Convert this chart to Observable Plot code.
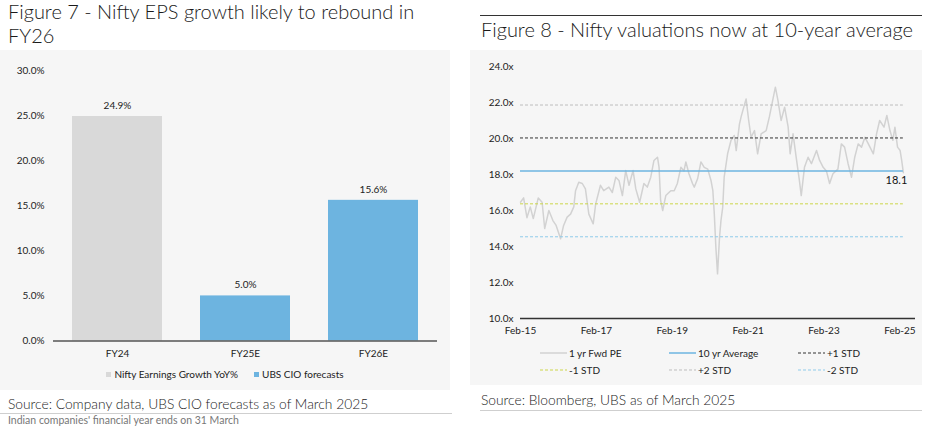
<!DOCTYPE html>
<html><head><meta charset="utf-8">
<script src="https://cdn.jsdelivr.net/npm/d3@7"></script>
<script src="https://cdn.jsdelivr.net/npm/@observablehq/plot@0.6"></script>
<style>
body{margin:0;background:#fff;font-family:Lato,"Open Sans",sans-serif;}
#wrap{position:relative;width:940px;height:427px;overflow:hidden;background:#fff;}
.abs{position:absolute;white-space:nowrap;}
.title{font-size:20px;color:#1a1a1a;line-height:23.5px;font-weight:300;}
.panel{position:absolute;background:#f6f6f6;}
.src{font-size:13.8px;color:#222;font-weight:300;}
.note{font-size:10.5px;color:#777;}
.leg{font-size:10px;color:#222;display:flex;align-items:center;}
.sq{display:inline-block;width:5px;height:5px;margin-right:3px;}
.hr{position:absolute;height:0;}
</style></head><body>
<div id="wrap">
  <div class="abs title" style="left:8px;top:0px;">Figure 7 - Nifty EPS growth likely to rebound in<br>FY26</div>
  <div class="panel" style="left:0;top:50px;width:450px;height:340px;"></div>
  <div id="leftChart" class="abs" style="left:0;top:52px;"></div>
  <div id="leftLegend" class="abs" style="left:0;top:368px;width:450px;"></div>
  <div class="abs src" style="left:8px;top:395px;">Source: Company data, UBS CIO forecasts as of March 2025</div>
  <div class="hr" style="left:0;top:413px;width:452px;border-top:1px solid #cfcfcf;"></div>
  <div class="abs note" style="left:8px;top:414px;">Indian companies' financial year ends on 31 March</div>

  <div class="hr" style="left:480px;top:15px;width:442px;border-top:1px solid #333;"></div>
  <div class="abs title" style="left:481px;top:18px;">Figure 8 - Nifty valuations now at 10-year average</div>
  <div class="panel" style="left:470px;top:50px;width:452px;height:335px;"></div>
  <div id="rightChart" class="abs" style="left:470px;top:52px;"></div>
  <div id="rightLegend" class="abs" style="left:470px;top:347px;width:452px;height:36px;"></div>
  <div class="abs src" style="left:481px;top:391px;">Source: Bloomberg, UBS as of March 2025</div>
  <div class="hr" style="left:480px;top:410px;width:442px;border-top:1px solid #cfcfcf;"></div>
</div>
<script>
// ---------- Figure 7 data ----------
const categories = ["FY24", "FY25E", "FY26E"];
const growth = [24.9, 5.0, 15.6];
const barSeries = ["Nifty Earnings Growth YoY%", "UBS CIO forecasts", "UBS CIO forecasts"];
const seriesNames = ["Nifty Earnings Growth YoY%", "UBS CIO forecasts"];
const seriesColors = ["#d9d9d9", "#6db4e0"];
const yTicksLeft = [0, 5, 10, 15, 20, 25, 30];

// ---------- Figure 8 data ----------
const peDates = ["2015-02-01","2015-03-03","2015-04-04","2015-05-06","2015-06-04","2015-07-22","2015-08-28","2015-09-22","2015-11-01","2015-12-10",
"2016-01-10","2016-02-22","2016-03-22","2016-04-25","2016-05-28","2016-06-28","2016-07-15","2016-08-15","2016-09-18","2016-10-18","2016-11-20",
"2017-01-01","2017-01-25","2017-03-12","2017-04-12","2017-06-01","2017-07-04","2017-08-06","2017-09-06","2017-10-09","2017-11-10","2017-12-12",
"2018-01-20","2018-02-15","2018-03-24","2018-05-04","2018-06-06","2018-07-09","2018-08-09","2018-09-12","2018-09-27","2018-10-12","2018-11-01","2018-12-01",
"2019-01-18","2019-02-20","2019-03-22","2019-04-25","2019-05-25","2019-06-12","2019-07-12","2019-08-15","2019-09-01","2019-10-03","2019-11-04","2019-12-06",
"2020-01-09","2020-02-09","2020-02-27","2020-03-12","2020-03-27","2020-04-12","2020-05-01","2020-05-15","2020-06-01","2020-06-15","2020-07-18","2020-08-20","2020-09-20","2020-10-09","2020-11-09","2020-11-25","2020-12-12",
"2021-01-12","2021-02-06","2021-03-01","2021-04-03","2021-05-03","2021-06-06","2021-07-24","2021-08-24","2021-09-12","2021-10-21","2021-11-15","2021-12-15",
"2022-01-18","2022-02-21","2022-03-12","2022-04-09","2022-05-09","2022-06-09","2022-06-27","2022-07-28","2022-09-01","2022-10-03","2022-11-21","2022-12-21",
"2023-01-24","2023-02-24","2023-03-27","2023-04-28","2023-06-15","2023-07-18","2023-08-18","2023-09-21","2023-10-24","2023-11-24","2023-12-27",
"2024-01-28","2024-03-01","2024-04-03","2024-05-21","2024-06-21","2024-07-21","2024-09-01","2024-09-28","2024-10-28","2024-11-25","2024-12-15",
"2025-01-09","2025-02-03","2025-02-18","2025-03-06"];
const peValues = [16.46,16.7,15.6,16.2,15.55,16.7,16.46,15.0,16.0,15.44,
15.17,14.43,15.17,15.63,15.8,16.2,17.1,17.57,17.5,17.2,15.8,
15.26,16.37,17.4,17.1,17.3,17.0,17.85,17.67,16.83,18.22,17.4,
18.22,17.2,16.46,17.5,17.3,17.85,18.78,18.96,18.4,16.56,16.0,16.83,
17.1,17.1,17.5,18.4,18.2,18.7,18.04,17.5,17.3,17.76,18.7,18.4,
18.3,17.67,17.1,15.8,13.96,12.48,14.5,15.44,16.18,17.85,19.15,19.9,20.17,19.33,20.8,21.2,21.56,
22.2,21.0,20.07,20.44,19.15,20.26,20.44,21.2,21.74,22.85,22.1,21.0,
21.74,20.63,19.15,20.26,18.96,17.67,16.83,18.4,18.96,18.6,19.33,18.78,
18.4,18.2,17.5,18.04,18.3,19.7,19.52,18.6,17.85,18.96,19.7,
19.52,20.07,19.7,19.15,20.26,21.0,20.63,21.28,20.44,19.9,20.63,
19.52,19.33,18.78,18.1];
const bandNames = ["10 yr Average", "+1 STD", "+2 STD", "-1 STD", "-2 STD"];
const bandValues = [18.2, 20.03, 21.86, 16.37, 14.54];
const bandColors = ["#6db4e0", "#333333", "#bdbdbd", "#ccd64a", "#8fcbea"];
const bandDash = [null, "3,2", "3,2", "3,2", "3,2"];
const peName = "1 yr Fwd PE";
const peColor = "#d2d2d2";
const yTicksRight = [10, 12, 14, 16, 18, 20, 22, 24];
const xTicksRight = ["2015-02-01", "2017-02-01", "2019-02-01", "2021-02-01", "2023-02-01", "2025-02-01"];

const font = "Lato, 'Open Sans', sans-serif";

// ---------- Left chart ----------
const barData = categories.map((c, i) => ({cat: c, value: growth[i], series: barSeries[i]}));
const left = Plot.plot({
  width: 450, height: 338,
  marginLeft: 53, marginRight: 13, marginTop: 18, marginBottom: 49.5,
  style: {background: "transparent", fontFamily: font, fontSize: "10px", color: "#222"},
  x: {domain: categories, paddingInner: 0.297, paddingOuter: 0.1485, label: null, tickSize: 0, tickPadding: 9},
  y: {domain: [0, 30], ticks: yTicksLeft, tickFormat: d => d.toFixed(1) + "%", label: null, tickSize: 0, tickPadding: 9},
  color: {domain: seriesNames, range: seriesColors},
  marks: [
    Plot.barY(barData, {x: "cat", y: "value", fill: "series"}),
    Plot.ruleY([0], {stroke: "#555", strokeWidth: 1.5}),
    Plot.text(barData, {x: "cat", y: "value", text: d => d.value.toFixed(1) + "%", dy: -11, fontSize: 10, fill: "#222"})
  ]
});
document.getElementById("leftChart").appendChild(left);

const ll = document.getElementById("leftLegend");
ll.style.display = "flex"; ll.style.justifyContent = "center"; ll.style.gap = "16px";
seriesNames.forEach((n, i) => {
  const s = document.createElement("span");
  s.className = "leg";
  s.innerHTML = `<span class="sq" style="background:${seriesColors[i]}"></span>${n}`;
  ll.appendChild(s);
});

// ---------- Right chart ----------
const pe = peDates.map((d, i) => ({date: new Date(d), value: peValues[i]}));
const xStart = pe[0].date, xEnd = pe[pe.length - 1].date;
const bands = bandNames.map((n, i) => ({name: n, value: bandValues[i], color: bandColors[i], dash: bandDash[i]}));
const right = Plot.plot({
  width: 452, height: 333,
  marginLeft: 50, marginRight: 7, marginTop: 14, marginBottom: 67,
  style: {background: "transparent", fontFamily: font, fontSize: "10px", color: "#222"},
  x: {type: "utc", domain: [new Date("2015-02-01"), new Date("2025-07-01")], ticks: xTicksRight.map(d => new Date(d)),
      tickFormat: d3.utcFormat("%b-%y"), tickSize: 0, tickPadding: 8, label: null},
  y: {domain: [10, 24], ticks: yTicksRight, tickFormat: d => d.toFixed(1) + "x", tickSize: 0, tickPadding: 7, label: null},
  marks: [
    Plot.lineY(pe, {x: "date", y: "value", stroke: peColor, strokeWidth: 1.5}),
    ...bands.map(b => Plot.ruleY([b], {y: "value", x1: () => xStart, x2: () => xEnd, stroke: b.color,
      strokeWidth: b.dash ? 1 : 1.5, strokeDasharray: b.dash || undefined})),
    Plot.ruleY([10], {stroke: "#333", strokeWidth: 1.5}),
    Plot.text([pe[pe.length - 1]], {x: "date", y: "value", text: d => d.value.toFixed(1), dy: 8, dx: 4,
      textAnchor: "end", fontSize: 11, fill: "#111"})
  ]
});
document.getElementById("rightChart").appendChild(right);

// right legend
const legendItems = [
  {name: peName, color: peColor, dash: null},
  {name: bandNames[0], color: bandColors[0], dash: null},
  {name: bandNames[1], color: bandColors[1], dash: "3,2"},
  {name: bandNames[3], color: bandColors[3], dash: "3,2"},
  {name: bandNames[2], color: bandColors[2], dash: "3,2"},
  {name: bandNames[4], color: bandColors[4], dash: "3,2"}
];
const colX = [70, 199, 328];
const rl = document.getElementById("rightLegend");
legendItems.forEach((it, i) => {
  const s = document.createElement("div");
  s.className = "abs leg";
  s.style.left = colX[i % 3] + "px";
  s.style.top = (Math.floor(i / 3) * 17) + "px";
  s.innerHTML = `<svg width="28" height="8" style="margin-right:1px"><line x1="0" x2="27" y1="4" y2="4" stroke="${it.color}" stroke-width="${it.dash ? 1 : 1.5}" ${it.dash ? `stroke-dasharray="${it.dash}"` : ""}/></svg>${it.name}`;
  rl.appendChild(s);
});
</script>
</body></html>
